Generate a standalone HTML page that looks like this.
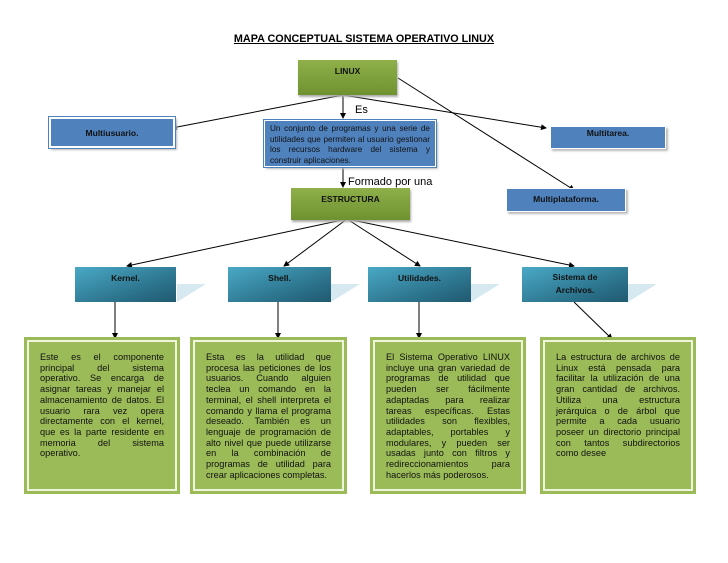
<!DOCTYPE html>
<html><head><meta charset="utf-8"><style>
body{margin:0;width:728px;height:563px;background:#fff;position:relative;overflow:hidden;font-family:"Liberation Sans",sans-serif}
.a{position:absolute;box-sizing:border-box}
.g{background:linear-gradient(180deg,#8fb04a,#6f9230);box-shadow:1px 2px 2px #aaa;text-align:center;font-weight:bold;font-size:8.5px;color:#111}
.b{background:#4f81bd;box-shadow:2px 2px 2px #bbb;border:2px solid #fff;outline:1px solid #4f81bd;font-size:8.5px;font-weight:bold;text-align:center;color:#111}
.t{background:linear-gradient(160deg,#4aa9c6,#2a6f88 70%,#205a70);font-size:8.5px;font-weight:bold;text-align:center;color:#111}
.gr{background:#9bbb59;border:3px solid #9bbb59;}
.gr div{border:2px solid #eef5dc;height:100%;box-sizing:border-box;padding:10px 11px 0 11px;font-size:9.2px;line-height:10.7px;text-align:justify;color:#111}
</style></head><body>
<div class="a" style="left:0;top:33px;width:728px;text-align:center;font-weight:bold;font-size:10.8px;"><span style="text-decoration:underline">MAPA CONCEPTUAL SISTEMA OPERATIVO LINUX</span></div>
<svg class="a" style="left:0;top:0" width="728" height="563">
<defs><marker id="m" markerWidth="6" markerHeight="6" refX="5" refY="3" orient="auto"><path d="M0,0L6,3L0,6z" fill="#000"/></marker></defs>
<g stroke="#000" stroke-width="1" fill="none" marker-end="url(#m)">
<line x1="343" y1="95" x2="172" y2="128"/>
<line x1="343" y1="95" x2="546" y2="128"/>
<line x1="343" y1="95" x2="343" y2="118"/>
<line x1="398" y1="78" x2="574" y2="190"/>
<line x1="343" y1="167" x2="343" y2="187"/>
<line x1="347" y1="219" x2="127" y2="266"/>
<line x1="347" y1="219" x2="284" y2="266"/>
<line x1="347" y1="219" x2="420" y2="266"/>
<line x1="347" y1="219" x2="574" y2="266"/>
<line x1="115" y1="302" x2="115" y2="338"/>
<line x1="278" y1="302" x2="278" y2="338"/>
<line x1="419" y1="302" x2="419" y2="338"/>
<line x1="574" y1="302" x2="612" y2="339"/>
</g>
<g fill="#d6e9f1">
<polygon points="177,284 206,284 177,302"/>
<polygon points="331,284 360,284 331,302"/>
<polygon points="471,284 500,284 471,302"/>
<polygon points="628,284 657,284 628,302"/>
</g>
</svg>
<div class="a g" style="left:298px;top:60px;width:99px;height:35px;padding-top:6px">LINUX</div>
<div class="a" style="left:355px;top:104px;font-size:11px">Es</div>
<div class="a" style="left:348px;top:176px;font-size:11px">Formado por una</div>
<div class="a b" style="left:49px;top:117px;width:126px;height:31px;padding-top:9px">Multiusuario.</div>
<div class="a b" style="left:264px;top:120px;width:172px;height:47px;font-weight:normal;text-align:justify;padding:3px 5px 0 5px;font-size:8.2px;line-height:10.5px;border-width:1px">Un conjunto de programas y una serie de utilidades que permiten al usuario gestionar los recursos hardware del sistema y construir aplicaciones.</div>
<div class="a b" style="left:550px;top:126px;width:116px;height:23px;padding-top:1px;border-width:1px;outline:none">Multitarea.</div>
<div class="a b" style="left:506px;top:188px;width:120px;height:24px;padding-top:5px;border-width:1px;outline:none">Multiplataforma.</div>
<div class="a g" style="left:291px;top:188px;width:119px;height:32px;padding-top:6px">ESTRUCTURA</div>
<div class="a t" style="left:75px;top:267px;width:101px;height:35px;padding-top:6px">Kernel.</div>
<div class="a t" style="left:228px;top:267px;width:103px;height:35px;padding-top:6px">Shell.</div>
<div class="a t" style="left:368px;top:267px;width:103px;height:35px;padding-top:6px">Utilidades.</div>
<div class="a t" style="left:522px;top:267px;width:106px;height:35px;padding-top:4px;line-height:13px">Sistema de<br>Archivos.</div>
<div class="a gr" style="left:24px;top:337px;width:156px;height:157px"><div>Este es el componente principal del sistema operativo. Se encarga de asignar tareas y manejar el almacenamiento de datos. El usuario rara vez opera directamente con el kernel, que es la parte residente en memoria del sistema operativo.</div></div>
<div class="a gr" style="left:190px;top:337px;width:157px;height:157px"><div>Esta es la utilidad que procesa las peticiones de los usuarios. Cuando alguien teclea un comando en la terminal, el shell interpreta el comando y llama el programa deseado. También es un lenguaje de programación de alto nivel que puede utilizarse en la combinación de programas de utilidad para crear aplicaciones completas.</div></div>
<div class="a gr" style="left:370px;top:337px;width:156px;height:157px"><div>El Sistema Operativo LINUX incluye una gran variedad de programas de utilidad que pueden ser fácilmente adaptadas para realizar tareas específicas. Estas utilidades son flexibles, adaptables, portables y modulares, y pueden ser usadas junto con filtros y redireccionamientos para hacerlos más poderosos.</div></div>
<div class="a gr" style="left:540px;top:337px;width:156px;height:157px"><div>La estructura de archivos de Linux está pensada para facilitar la utilización de una gran cantidad de archivos. Utiliza una estructura jerárquica o de árbol que permite a cada usuario poseer un directorio principal con tantos subdirectorios como desee</div></div>
</body></html>
